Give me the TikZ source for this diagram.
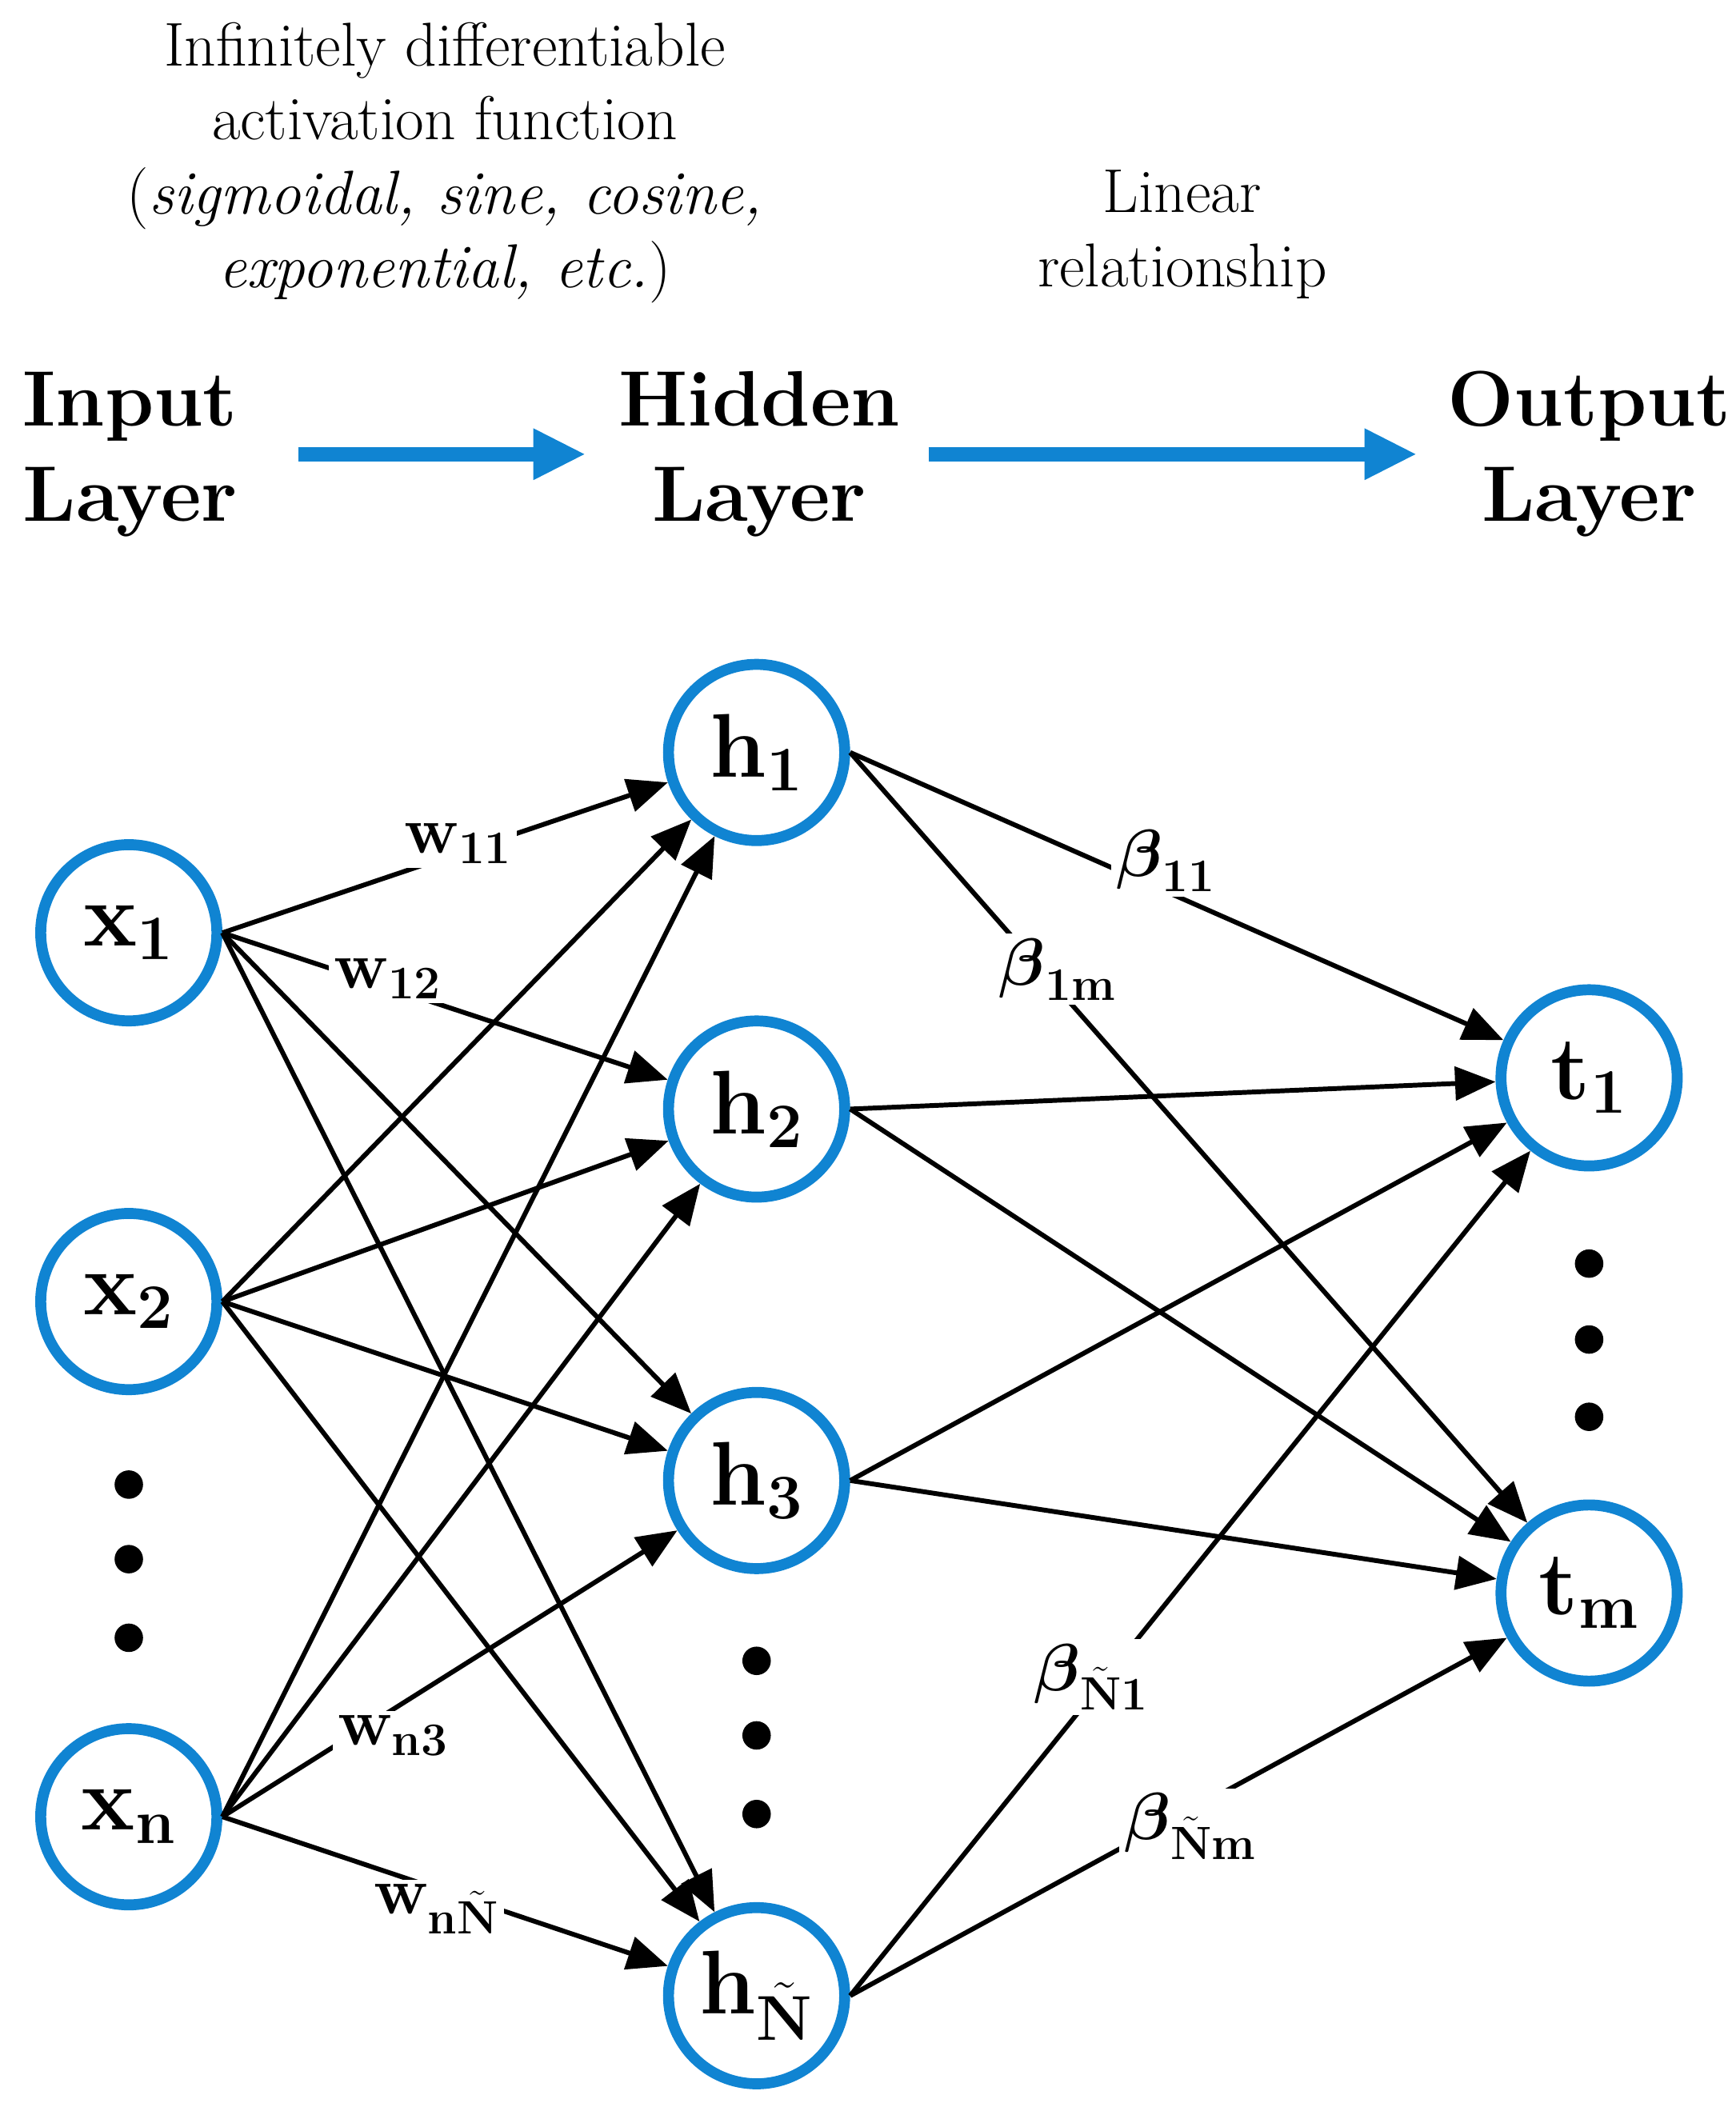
\RequirePackage{fix-cm}
\documentclass[tikz,border=0pt]{standalone}
\usepackage{amsmath}
\usetikzlibrary{arrows.meta}
\begin{document}
\begin{tikzpicture}[x=0.02cm,y=-0.02cm,
  neuron/.style={circle,draw=nblue,line width=4.6pt,minimum size=2.6cm,inner sep=0pt,font=\fontsize{38}{40}\selectfont\bfseries},
  conn/.style={line width=2pt,-{Triangle[length=17pt,width=14pt]}},
  lab/.style={fill=white,inner sep=2pt,font=\fontsize{28}{30}\selectfont\bfseries},
  dot/.style={circle,fill=black,inner sep=0pt,minimum size=0.42cm},
  big/.style={align=center,font=\fontsize{33}{40}\selectfont\bfseries},
  small/.style={align=center,font=\fontsize{26}{31}\selectfont},
  barrow/.style={draw=nblue,line width=6pt,-{Triangle[length=22pt,width=20pt]}}]
\definecolor{nblue}{RGB}{16,132,210}
\useasboundingbox (0,0) rectangle (1280,1560);
% headings
\node[small] (t1txt) at (328,120) {Infinitely differentiable\\activation function\\(\textit{sigmoidal, sine, cosine,}\\\textit{exponential, etc.})};
\node[small] (t2txt) at (872,173) {Linear\\relationship};
\node[big] (inl) at (96,335) {Input\\Layer};
\node[big] (hidl) at (560,335) {Hidden\\Layer};
\node[big] (outl) at (1172,335) {Output\\Layer};
\coordinate (a1) at (220,335); \coordinate (a2) at (432,335);
\coordinate (b1) at (685,335); \coordinate (b2) at (1045,335);
\draw[barrow] (a1) -- (a2);
\draw[barrow] (b1) -- (b2);
% neurons
\node[neuron] (x1) at (95,688) {$\mathbf{x_1}$};
\node[neuron] (x2) at (95,960) {$\mathbf{x_2}$};
\node[neuron] (xn) at (95,1340) {$\mathbf{x_n}$};
\node[neuron] (h1) at (558,555) {$\mathbf{h_1}$};
\node[neuron] (h2) at (558,818) {$\mathbf{h_2}$};
\node[neuron] (h3) at (558,1092) {$\mathbf{h_3}$};
\node[neuron] (hN) at (558,1472) {$\mathbf{h}_{\tilde{\mathbf{N}}}$};
\node[neuron] (t1) at (1172,795) {$\mathbf{t_1}$};
\node[neuron] (tm) at (1172,1175) {$\mathbf{t_m}$};
% dots
\foreach \y [count=\i] in {1095,1150,1208} \node[dot] (dx\i) at (95,\y) {};
\foreach \y [count=\i] in {1225,1280,1338} \node[dot] (dh\i) at (558,\y) {};
\foreach \y [count=\i] in {932,988,1045} \node[dot] (dt\i) at (1172,\y) {};
% connections
\foreach \s in {x1,x2,xn}
  \foreach \t in {h1,h2,h3,hN}
    \draw[conn] (\s.east) -- (\t);
\foreach \s in {h1,h2,h3,hN}
  \foreach \t in {t1,tm}
    \draw[conn] (\s.east) -- (\t);
% labels
\node[lab] (w11) at (338,622) {$\mathbf{w_{11}}$};
\node[lab] (w12) at (286,722) {$\mathbf{w_{12}}$};
\node[lab] (wn3) at (290,1280) {$\mathbf{w_{n3}}$};
\node[lab] (wnN) at (322,1408) {$\mathbf{w}_{\mathbf{n}\tilde{\mathbf{N}}}$};
\node[lab] (b11) at (860,635) {$\boldsymbol{\beta}_{\mathbf{11}}$};
\node[lab] (b1m) at (780,715) {$\boldsymbol{\beta}_{\mathbf{1m}}$};
\node[lab] (bN1) at (805,1237) {$\boldsymbol{\beta}_{\tilde{\mathbf{N}}\mathbf{1}}$};
\node[lab] (bNm) at (878,1347) {$\boldsymbol{\beta}_{\tilde{\mathbf{N}}\mathbf{m}}$};
\end{tikzpicture}
\end{document}
